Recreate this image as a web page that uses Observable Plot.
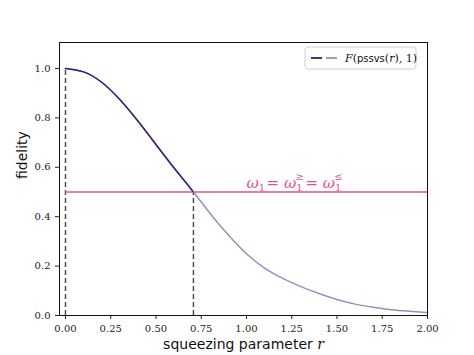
<!DOCTYPE html>
<html>
<head>
<meta charset="utf-8">
<script src="https://cdn.jsdelivr.net/npm/d3@7"></script>
<script src="https://cdn.jsdelivr.net/npm/@observablehq/plot@0.6"></script>
<style>
  html, body { margin: 0; padding: 0; background: #fff; }
  #chart { width: 474px; height: 355px; }
</style>
</head>
<body>
<div id="chart"></div>
<script>
// squeezing parameter r and fidelity F
const rValues = [0, 0.1, 0.2, 0.3, 0.4, 0.5, 0.6, 0.707, 0.8, 0.9, 1.0, 1.1, 1.2, 1.3, 1.4, 1.5, 1.6, 1.7, 1.8, 1.9, 2.0];
const fValues = [1.000, 0.986, 0.944, 0.874, 0.787, 0.692, 0.597, 0.500, 0.412, 0.326, 0.250, 0.192, 0.150, 0.117, 0.089, 0.065, 0.046, 0.033, 0.023, 0.017, 0.012];
const crossR = 0.707;        // r where F = 1/2
const thresholdF = 0.5;      // horizontal line omega_1
const xTicks = [0, 0.25, 0.5, 0.75, 1.0, 1.25, 1.5, 1.75, 2.0];
const yTicks = [0, 0.2, 0.4, 0.6, 0.8, 1.0];
const labelR = 1.27;         // x position of the omega label
const darkColor = "#3d1d6f";
const lightColor = "#a08abf";
const pinkColor = "#e4508a";

const data = rValues.map((r, i) => ({r, f: fValues[i]}));
const vlines = [{r: 0, f: fValues[0]}, {r: crossR, f: thresholdF}];

const serif = "'DejaVu Serif', 'Liberation Serif', serif";
const sans = "'DejaVu Sans', sans-serif";

const plot = Plot.plot({
  width: 474,
  height: 355,
  marginLeft: 59,
  marginRight: 47,
  marginTop: 42,
  marginBottom: 40,
  style: {background: "white", overflow: "visible"},
  x: {domain: [-0.033, 2.0]},
  y: {domain: [0, 1.105]},
  marks: [
    Plot.ruleX(vlines, {x: "r", y1: 0, y2: "f", stroke: "#444", strokeWidth: 1.4, strokeDasharray: "5,3"}),
    Plot.ruleY([thresholdF], {x1: 0, x2: 2.0, stroke: pinkColor, strokeWidth: 1.4}),
    Plot.line(data, {x: "r", y: "f", curve: "natural", stroke: lightColor, strokeWidth: 1.5}),
    Plot.line(data, {x: "r", y: "f", curve: "natural", stroke: darkColor, strokeWidth: 1.5, className: "darkline"}),
    Plot.text([{r: labelR, f: thresholdF}], {x: "r", y: "f", text: () => "omega-label", lineAnchor: "bottom", dy: -4, fill: pinkColor, fontSize: 15, fontFamily: serif, className: "omega"}),
    Plot.axisX({ticks: xTicks, tickFormat: d => d.toFixed(2), tickSize: 4, fontSize: 10, fontFamily: serif, label: null, color: "#222"}),
    Plot.axisY({ticks: yTicks, tickFormat: d => d.toFixed(1), tickSize: 4, fontSize: 10, fontFamily: serif, label: null, color: "#222"}),
    Plot.text(["squeezing parameter "], {frameAnchor: "bottom", dy: 33, fontSize: 14, fontFamily: sans, fill: "#111", className: "xlabel"}),
    Plot.text(["fidelity"], {frameAnchor: "left", dx: -37, rotate: -90, fontSize: 14, fontFamily: sans, fill: "#111"}),
    Plot.frame({stroke: "#111", strokeWidth: 1})
  ]
});
document.getElementById("chart").appendChild(plot);

const svg = d3.select(plot);

// clip the dark copy of the curve to r <= crossR (the part above the threshold)
{
  const xs = plot.scale("x");
  const cx = xs.apply(crossR);
  const id = "clipDark";
  svg.append("defs").append("clipPath").attr("id", id)
    .append("rect").attr("x", 0).attr("y", 0).attr("width", cx).attr("height", 355);
  svg.selectAll("g.darkline").attr("clip-path", `url(#${id})`);
}

// omega label with sub/superscripts
svg.selectAll("g.omega text").each(function() {
  const t = d3.select(this);
  t.text(null);
  const w = () => t.append("tspan").attr("font-style", "italic").text("ω");
  const sub = (sup) => {
    t.append("tspan").attr("font-size", 10).attr("dy", 3).text("1");
    if (sup) {
      t.append("tspan").attr("font-size", 10).attr("dx", -7).attr("dy", -11).text(sup);
      t.append("tspan").attr("dy", 8).text("\u200a");
    } else {
      t.append("tspan").attr("dy", -3).text("\u200a");
    }
  };
  w(); sub(null); t.append("tspan").text("= ");
  w(); sub("≥"); t.append("tspan").text("= ");
  w(); sub("≤");
});

// italic r in x label
svg.selectAll("g.xlabel text").each(function() {
  d3.select(this).append("tspan").attr("font-family", serif).attr("font-style", "italic").text("r");
});

// legend
const lg = svg.append("g").attr("transform", "translate(305,47)");
lg.append("rect").attr("width", 111).attr("height", 22).attr("rx", 3)
  .attr("fill", "white").attr("stroke", "#d0d0d0").attr("stroke-width", 1);
lg.append("line").attr("x1", 6).attr("x2", 17).attr("y1", 11).attr("y2", 11).attr("stroke", darkColor).attr("stroke-width", 1.8);
lg.append("line").attr("x1", 21).attr("x2", 32).attr("y1", 11).attr("y2", 11).attr("stroke", lightColor).attr("stroke-width", 1.8);
const lt = lg.append("text").attr("x", 40).attr("y", 15).attr("text-anchor", "start")
  .attr("font-size", 11).attr("font-family", serif).attr("fill", "#111");
lt.append("tspan").attr("font-style", "italic").text("F");
lt.append("tspan").text("(");
lt.append("tspan").attr("font-family", sans).attr("font-size", 10).text("pssvs");
lt.append("tspan").text("(");
lt.append("tspan").attr("font-style", "italic").text("r");
lt.append("tspan").text("), 1)");
</script>
</body>
</html>
